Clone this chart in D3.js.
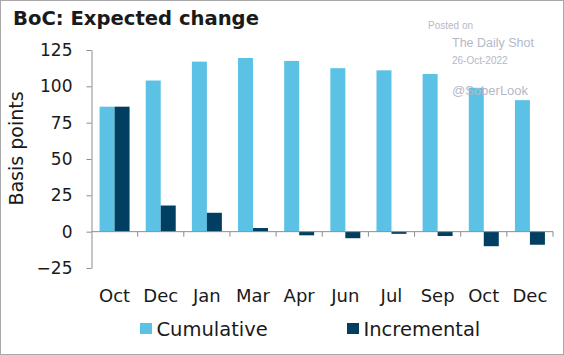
<!DOCTYPE html>
<html>
<head>
<meta charset="utf-8">
<script src="https://cdn.jsdelivr.net/npm/d3@7"></script>
<style>
  html, body { margin: 0; padding: 0; background: #fff; }
  svg { display: block; }
</style>
</head>
<body>
<svg id="chart" width="564" height="355"></svg>
<script>
const categories = ["Oct", "Dec", "Jan", "Mar", "Apr", "Jun", "Jul", "Sep", "Oct", "Dec"];
const cumulative = [86, 104, 117, 119.5, 117.5, 112.5, 111, 108.5, 99, 90.5];
const incremental = [86, 18, 13, 2.5, -2.5, -4.5, -1.5, -3, -10, -9];
const seriesNames = ["Cumulative", "Incremental"];
const yTicks = [-25, 0, 25, 50, 75, 100, 125];
const titleText = "BoC: Expected change";
const yLabel = "Basis points";

(function () {
const colors = { Cumulative: "#5bc2e6", Incremental: "#003f62" };
const fontMain = "'DejaVu Sans', Verdana, sans-serif";

const svg = d3.select("#chart");
const W = 564, H = 355;

// border
svg.append("rect").attr("x", 0.5).attr("y", 0.5).attr("width", W - 1).attr("height", H - 1)
  .attr("fill", "#fff").attr("stroke", "#a8a8a8").attr("stroke-width", 1);

const mLeft = 91.5, mRight = 553, mTop = 50, mBottom = 268;

const idx = categories.map((c, i) => i);
const x0 = d3.scaleBand().domain(idx).range([mLeft, mRight]).paddingInner(0.35).paddingOuter(0.175);
const x1 = d3.scaleBand().domain(seriesNames).range([0, x0.bandwidth()]).padding(0);
const y = d3.scaleLinear().domain([-25, 125]).range([mBottom, mTop]);

const data = idx.map(i => ({ i, Cumulative: cumulative[i], Incremental: incremental[i] }));

// bars
const g = svg.append("g");
const groups = g.selectAll("g.grp").data(data).join("g")
  .attr("transform", d => `translate(${x0(d.i)},0)`);
groups.selectAll("rect").data(d => seriesNames.map(k => ({ k, v: d[k] }))).join("rect")
  .attr("x", d => x1(d.k))
  .attr("width", x1.bandwidth())
  .attr("y", d => y(Math.max(0, d.v)))
  .attr("height", d => Math.abs(y(d.v) - y(0)))
  .attr("fill", d => colors[d.k]);

// y axis
const yAxis = svg.append("g").attr("transform", `translate(${mLeft},0)`)
  .call(d3.axisLeft(y).tickValues(yTicks).tickSize(5).tickSizeOuter(0).tickPadding(14));
yAxis.select(".domain").attr("stroke", "#8c8c8c");
yAxis.selectAll(".tick line").attr("stroke", "#8c8c8c");
yAxis.selectAll(".tick text").attr("font-family", fontMain).attr("font-size", 17).attr("fill", "#1a1a1a");

// x axis at zero
const step = x0.step();
const xTickPos = d3.range(1, categories.length + 1).map(k => mLeft + k * step);
const xAxisG = svg.append("g");
xAxisG.append("line").attr("x1", mLeft).attr("x2", mRight).attr("y1", y(0)).attr("y2", y(0))
  .attr("stroke", "#8c8c8c");
xAxisG.selectAll("line.t").data(xTickPos).join("line").attr("class", "t")
  .attr("x1", d => d).attr("x2", d => d).attr("y1", y(0)).attr("y2", y(0) + 5)
  .attr("stroke", "#8c8c8c");

// x labels (low position)
svg.append("g").selectAll("text").data(data).join("text")
  .attr("x", d => x0(d.i) + x0.bandwidth() / 2)
  .attr("y", 302)
  .attr("text-anchor", "middle")
  .attr("font-family", fontMain).attr("font-size", 18).attr("fill", "#1a1a1a")
  .text(d => categories[d.i]);

// y label
svg.append("text")
  .attr("transform", `translate(23,148.5) rotate(-90)`)
  .attr("text-anchor", "middle")
  .attr("font-family", fontMain).attr("font-size", 19).attr("fill", "#1a1a1a")
  .text(yLabel);

// title
svg.append("text").attr("x", 13).attr("y", 25)
  .attr("font-family", fontMain).attr("font-size", 19.6).attr("font-weight", "bold").attr("fill", "#1a1a1a")
  .text(titleText);

// legend
const legendPos = [{ k: "Cumulative", x: 140 }, { k: "Incremental", x: 347 }];
const lg = svg.append("g");
legendPos.forEach(p => {
  lg.append("rect").attr("x", p.x).attr("y", 323).attr("width", 12).attr("height", 11).attr("fill", colors[p.k]);
  lg.append("text").attr("x", p.x + 16.5).attr("y", 336)
    .attr("font-family", fontMain).attr("font-size", 19.5).attr("fill", "#1a1a1a").text(p.k);
});

// watermark
const wm = svg.append("g").attr("font-family", "'Liberation Sans', Arial, sans-serif").attr("fill", "#b4b8c8");
wm.append("text").attr("x", 428).attr("y", 29).attr("font-size", 10).text("Posted on");
wm.append("text").attr("x", 452).attr("y", 47).attr("font-size", 12.5).text("The Daily Shot");
wm.append("text").attr("x", 452).attr("y", 63.5).attr("font-size", 10).text("26-Oct-2022");
wm.append("text").attr("x", 452).attr("y", 94.5).attr("font-size", 13).text("@SoberLook");
})();
</script>
</body>
</html>
